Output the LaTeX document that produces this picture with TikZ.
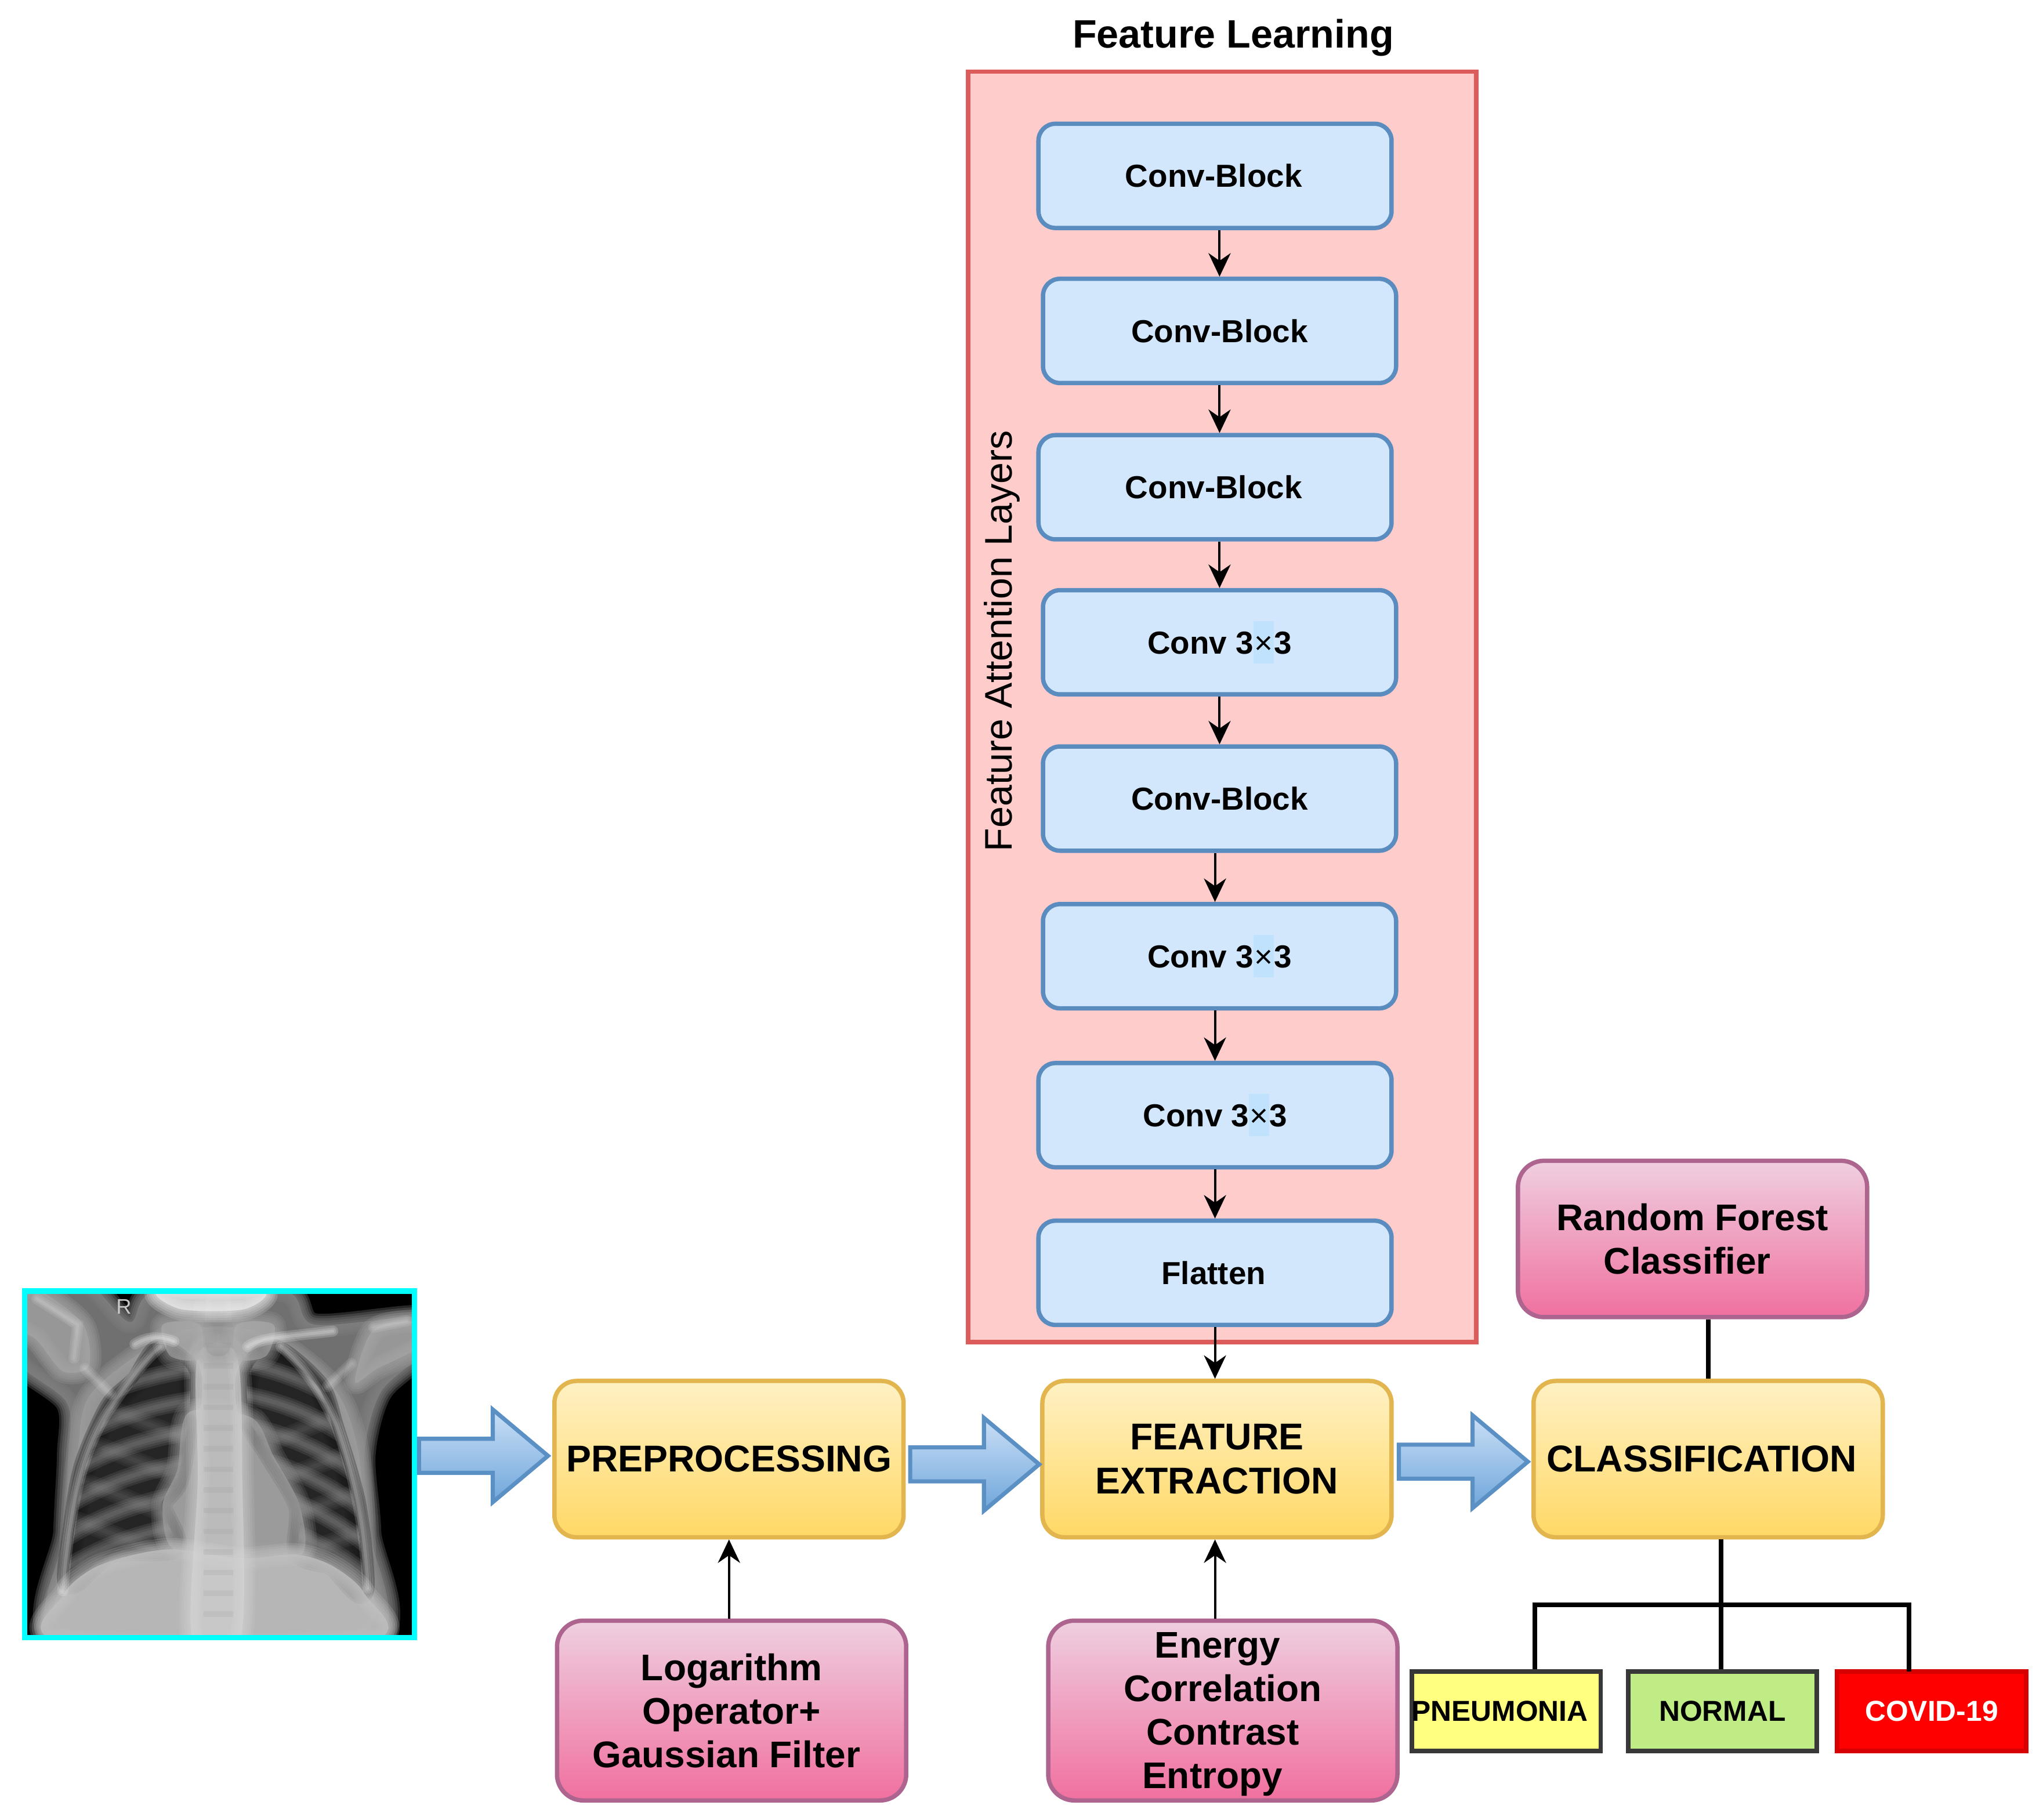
\documentclass[tikz,border=0pt]{standalone}
\usepackage{fontspec}
\setmainfont{Liberation Sans}
\usetikzlibrary{
	arrows.meta,
	positioning,
	shapes.arrows,
}
\definecolor{layerfill}{HTML}{D2E6FC}
\definecolor{layerdraw}{HTML}{5A8CC0}
\definecolor{patch}{HTML}{C0E2FD}
\definecolor{stagetop}{HTML}{FFF1C4}
\definecolor{stagebot}{HTML}{FFD865}
\definecolor{stagedraw}{HTML}{E2B54F}
\definecolor{inputtop}{HTML}{EFCFE0}
\definecolor{inputbot}{HTML}{F0709F}
\definecolor{inputdraw}{HTML}{AD6590}
\definecolor{flowtop}{HTML}{CADFF6}
\definecolor{flowbot}{HTML}{6FA6DB}
\definecolor{flowdraw}{HTML}{5A90C4}
\definecolor{framefill}{HTML}{FFCCCC}
\definecolor{framedraw}{HTML}{DC5C5C}
\definecolor{scanframe}{HTML}{00FFFF}
\definecolor{pneufill}{HTML}{FFFF80}
\definecolor{normfill}{HTML}{C0EC85}
\definecolor{coviddraw}{HTML}{D60000}
\tikzset{
	layer/.style={
		draw=layerdraw, fill=layerfill, rounded corners=.13cm, line width=.95pt,
		minimum width=2.71cm, minimum height=.8cm, inner sep=0,
		font=\bfseries\fontsize{6.95}{8}\selectfont,
	},
	stage/.style={
		draw=stagedraw, top color=stagetop, bottom color=stagebot, rounded corners=.17cm, line width=.95pt,
		minimum width=2.68cm, minimum height=1.2cm, inner sep=0, align=center,
		font=\bfseries\fontsize{8.15}{9.6}\selectfont,
	},
	input/.style={
		draw=inputdraw, top color=inputtop, bottom color=inputbot, rounded corners=.2cm, line width=.95pt,
		minimum width=2.68cm, minimum height=1.38cm, inner sep=0, align=center,
		font=\bfseries\fontsize{8.1}{9.5}\selectfont,
	},
	result/.style={
		draw=black!78, line width=1pt, minimum width=1.45cm, minimum height=.61cm, inner sep=0,
		font=\bfseries\fontsize{6.3}{8}\selectfont,
	},
	flow/.style={
		single arrow, draw=flowdraw, top color=flowtop, bottom color=flowbot, line width=.9pt,
		anchor=tail, minimum height=.99cm, minimum width=.7cm, inner sep=.115cm,
		single arrow head extend=.225cm, single arrow tip angle=80, single arrow head indent=0,
	},
	next/.style={-{Stealth[length=.18cm,width=.17cm]}, line width=.5pt},
	tree/.style={line width=1pt},
}
% soft edged blob for the x-ray
\newcommand{\softblob}[3]{
	\foreach \w in {5,4,3,2,1,0}{
		\fill[#1, draw=#1, opacity=#2, line width=\w pt, line join=round] plot[smooth cycle] coordinates {#3};
	}
}
\newcommand{\softbone}[2]{
	\foreach \w in {2.4,1.5,.7}{
		\draw[white, opacity=#1, line width=\w pt, line cap=round] #2;
	}
}
\newcommand{\softrib}[2]{
	\foreach \w in {4,3,2,1}{
		\draw[black!40, opacity=#1, line width=\w pt] #2;
	}
}
\newcommand{\nudge}[1]{\hspace*{#1}}
\newcommand{\cross}{{\fboxsep=0pt\colorbox{patch}{\makebox[.155cm]{\rule[-.075cm]{0pt}{.325cm}\mdseries ×}}}}

\begin{document}
\begin{tikzpicture}
\useasboundingbox (0,0) rectangle (15.68,-13.97);

% x-ray, coordinates of the crop
\begin{scope}
\clip (.19,-9.91) rectangle (3.18,-12.57);
\fill[black] (.19,-9.91) rectangle (3.18,-12.57);
\begin{scope}[shift={(0cm,-9.573cm)}, x=.00284cm, y=-.001988cm]
	% body
	\softblob{black!50}{.3}{(30,150) (225,130) (350,290) (420,170) (770,170) (850,300) (1150,270) (1150,400) (1030,560) (985,800) (1000,1100) (1000,1540) (170,1540) (175,1100) (185,800) (180,600) (30,420)}
	\softblob{black!35}{.22}{(40,160) (110,170) (225,300) (240,460) (170,480) (100,360) (40,300)}
	\softblob{black!35}{.22}{(1010,320) (1140,290) (1140,380) (1020,470) (960,520)}
	\softblob{black!38}{.22}{(250,560) (480,330) (700,330) (900,540) (970,800) (985,1200) (960,1500) (190,1500) (190,1200) (210,800)}
	% lungs
	\softblob{black!90}{.3}{(430,400) (510,480) (510,650) (480,900) (435,1000) (470,1160) (300,1180) (190,1300) (200,1100) (230,850) (300,620) (370,520)}
	\softblob{black!90}{.3}{(740,400) (860,540) (900,700) (960,1000) (980,1330) (900,1230) (810,1180) (810,1000) (730,800) (680,680) (670,500)}
	\begin{scope}
		\clip plot[smooth cycle] coordinates {(430,400) (510,480) (510,650) (480,900) (435,1000) (470,1160) (300,1180) (190,1300) (200,1100) (230,850) (300,620) (370,520)};
		\foreach \y in {470,590,710,830,950,1070,1190}{
			\softrib{.16}{(530,\y) .. controls (400,\y+25) and (280,\y+80) .. (160,\y+190)}
		}
		\foreach \y in {560,720,880,1040}{
			\softrib{.08}{(170,\y) .. controls (280,\y+50) and (400,\y+130) .. (520,\y+190)}
		}
	\end{scope}
	\begin{scope}
		\clip plot[smooth cycle] coordinates {(740,400) (860,540) (900,700) (960,1000) (980,1330) (900,1230) (810,1180) (810,1000) (730,800) (680,680) (670,500)};
		\foreach \y in {450,570,690,810,930,1050,1170}{
			\softrib{.16}{(650,\y) .. controls (760,\y+25) and (880,\y+90) .. (1000,\y+230)}
		}
		\foreach \y in {620,780,940,1100}{
			\softrib{.08}{(1000,\y) .. controls (900,\y+30) and (780,\y+110) .. (660,\y+180)}
		}
	\end{scope}
	% heart, spine, diaphragm
	\softblob{black!36}{.16}{(510,640) (680,660) (740,810) (810,1000) (815,1190) (650,1180) (470,1170) (440,1000) (480,860)}
	\softblob{black!24}{.22}{(175,1340) (250,1245) (350,1195) (470,1170) (650,1205) (800,1190) (900,1235) (985,1340) (1000,1520) (160,1520)}
	\softblob{black!14}{.12}{(535,420) (640,420) (655,900) (650,1520) (520,1520) (535,900)}
	\softblob{black!40}{.12}{(560,190) (620,190) (620,400) (560,400)}
	\softblob{black!8}{.2}{(430,170) (710,170) (660,240) (490,240)}
	\softblob{black!30}{.12}{(440,300) (540,300) (540,430) (460,420)}
	\softblob{black!30}{.12}{(640,300) (740,300) (720,420) (640,430)}
	\foreach \y in {300,380,460,540,620,700,780,860,940,1020,1100,1180,1260,1340,1420}{
		\draw[black!45, opacity=.14, line width=1.2pt] (550,\y) -- (630,\y);
	}
	% bones
	\softbone{.16}{(435,385) .. controls (380,450) and (340,540) .. (290,640) .. controls (220,800) and (190,1000) .. (170,1330)}
	\softbone{.16}{(760,385) .. controls (830,470) and (870,570) .. (910,690) .. controls (950,850) and (985,1050) .. (995,1320)}
	\softbone{.18}{(365,375) .. controls (400,345) and (430,345) .. (470,365)}
	\softbone{.18}{(670,385) .. controls (700,350) and (790,345) .. (900,325)}
	\softbone{.1}{(230,470) -- (300,570)}
	\softbone{.1}{(950,450) -- (885,540)}
	\softbone{.1}{(100,200) -- (210,300) -- (200,430)}
	\softbone{.1}{(1010,310) -- (1100,285)}
\end{scope}
\end{scope}
\node[text=black!22, font=\fontsize{4.6}{5}\selectfont] (mark) at (.95,-10.03) {R};
\node[draw=scanframe, line width=1.2pt, minimum width=2.99cm, minimum height=2.66cm, inner sep=0] (xray) at (1.685,-11.24) {};

% feature learning frame
\node[draw=framedraw, fill=framefill, line width=1pt, minimum width=3.9cm, minimum height=9.75cm, inner sep=0] (frame) at (9.38,-5.425) {};
\node[font=\bfseries\fontsize{8.65}{10}\selectfont] (title) at (9.465,-.29) {Feature Learning};
\node[rotate=90, font=\fontsize{8.4}{10}\selectfont] (side) at (7.69,-4.92) {Feature Attention Layers};

\node[layer] (b1) at (9.325,-1.35) {\nudge{-.02cm}Conv-Block};
\node[layer] (b2) at (9.36,-2.54) {Conv-Block};
\node[layer] (b3) at (9.325,-3.74) {\nudge{-.02cm}Conv-Block};
\node[layer] (b4) at (9.36,-4.93) {Conv 3\cross 3};
\node[layer] (b5) at (9.36,-6.13) {Conv-Block};
\node[layer] (b6) at (9.36,-7.34) {Conv 3\cross 3};
\node[layer] (b7) at (9.325,-8.56) {Conv 3\cross 3};
\node[layer] (b8) at (9.325,-9.77) {\nudge{-.02cm}Flatten};

% pipeline
\node[stage] (pre) at (5.595,-11.2) {PREPROCESSING};
\node[stage] (feat) at (9.34,-11.2) {FEATURE\\EXTRACTION};
\node[stage] (cls) at (13.11,-11.2) {\nudge{-.1cm}CLASSIFICATION};

\node[input] (log) at (5.615,-13.13) {Logarithm\\Operator+\\\nudge{-.08cm}Gaussian Filter};
\node[input, text depth=0pt] (stats) at (9.385,-13.13) {\nudge{-.08cm}Energy\\Correlation\\Contrast\\\nudge{-.16cm}Entropy};
\node[input, minimum height=1.2cm] (forest) at (12.99,-9.51) {Random Forest\\\nudge{-.08cm}Classifier};

\node[result, fill=pneufill] (pneu) at (11.56,-13.135) {\nudge{-.1cm}PNEUMONIA};
\node[result, fill=normfill] (norm) at (13.22,-13.135) {NORMAL};
\node[result, draw=coviddraw, fill=red, text=white] (covid) at (14.825,-13.135) {COVID-19};

\node[flow] (a1) at (3.2,-11.175) {};
\node[flow] (a2) at (6.97,-11.24) {};
\node[flow] (a3) at (10.72,-11.22) {};

\coordinate (fork) at (13.21,-12.32);

\draw[next] (b1.south -| b2.north) -- (b2.north);
\draw[next] (b2.south) -- (b2.south |- b3.north);
\draw[next] (b3.south -| b4.north) -- (b4.north);
\draw[next] (b4.south) -- (b5.north);
\draw[next] (b5.south -| b7.north) -- (b6.north -| b7.north);
\draw[next] (b6.south -| b7.north) -- (b7.north);
\draw[next] (b7.south) -- (b8.north);
\draw[next] (b8.south) -- (b8.south |- feat.north);
\draw[next] (log.north -| pre.south) -- (pre.south);
\draw[next] (stats.north -| b8.south) -- (feat.south -| b8.south);

\begin{scope}[tree]
\draw (forest.south -| cls.north) -- (cls.north);
\draw (cls.south -| fork) -- (fork);
\draw (pneu.north -| 11.78,0) |- (fork) -| (14.65,-12.83);
\draw (fork) -- (fork |- norm.north);
\end{scope}

\end{tikzpicture}
\end{document}
